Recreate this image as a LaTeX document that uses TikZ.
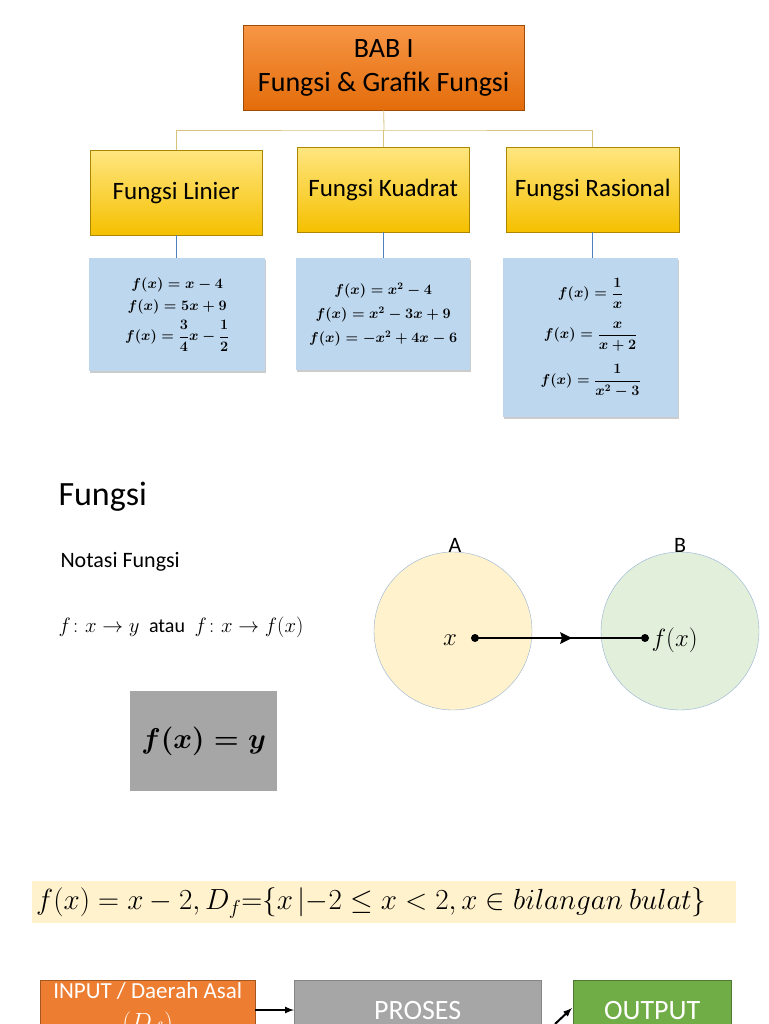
\documentclass[tikz,border=0pt]{standalone}
\usepackage{amsmath,amssymb}
\usepackage{fontspec}
\setmainfont{Carlito}
\usetikzlibrary{shadows}
\definecolor{orA}{HTML}{F79646}\definecolor{orB}{HTML}{E36C0A}
\definecolor{yeA}{HTML}{FFE680}\definecolor{yeB}{HTML}{F5C000}
\definecolor{lblue}{HTML}{BDD7EE}\definecolor{linec}{HTML}{D9C27A}
\definecolor{bline}{HTML}{4F81BD}\definecolor{cream}{HTML}{FFF2CC}
\definecolor{lgreen}{HTML}{E2EFDA}\definecolor{gry}{HTML}{A6A6A6}
\definecolor{orflat}{HTML}{ED7D31}\definecolor{grn}{HTML}{70AD47}
\begin{document}
\begin{tikzpicture}[x=1pt,y=-1pt,
 topbox/.style={draw=orB!70!black,top color=orA,bottom color=orB,minimum width=281pt,minimum height=85pt,font=\fontsize{28}{34}\selectfont,align=center,anchor=north west},
 catbox/.style={draw=yeB!70!black,top color=yeA,bottom color=yeB,minimum width=172pt,minimum height=85pt,font=\fontsize{25}{30}\selectfont,anchor=north west},
 mathbox/.style={fill=lblue,drop shadow={shadow xshift=1pt,shadow yshift=-2pt,opacity=0.4},anchor=north west,align=center,font=\fontsize{14}{17}\selectfont},
 conn/.style={draw=linec,line width=0.8pt},
 bconn/.style={draw=bline,line width=0.6pt},
 flow/.style={anchor=north west,text=white,font=\fontsize{28}{32}\selectfont,align=center}]
\useasboundingbox (0,0) rectangle (768,1024);
\fill[white] (0,0) rectangle (768,1024);
\node[topbox] (bab) at (243,25) {BAB I\\Fungsi \& Grafik Fungsi};
\node[catbox] (lin) at (90,150) {Fungsi Linier};
\node[catbox] (kua) at (297,147) {Fungsi Kuadrat};
\node[catbox,minimum width=173pt] (ras) at (506,147) {Fungsi Rasional};
\coordinate (hub) at (384,130);
\draw[conn] (bab.south) -- (hub);
\draw[conn] (lin.north) |- (hub) -| (ras.north);
\draw[conn] (kua.north) -- (kua.north |- hub);
\node[mathbox,minimum width=176pt,minimum height=113pt] (m1) at (89,258) {$\boldsymbol{f(x)=x-4}$\\[5pt]$\boldsymbol{f(x)=5x+9}$\\[5pt]$\boldsymbol{f(x)=\dfrac{3}{4}x-\dfrac{1}{2}}$};
\node[mathbox,minimum width=174pt,minimum height=112pt] (m2) at (296,258) {$\boldsymbol{f(x)=x^2-4}$\\[7pt]$\boldsymbol{f(x)=x^2-3x+9}$\\[7pt]$\boldsymbol{f(x)=-x^2+4x-6}$};
\node[mathbox,minimum width=175pt,minimum height=159pt] (m3) at (503,258) {$\boldsymbol{f(x)=\dfrac{1}{x}}$\\[12pt]$\boldsymbol{f(x)=\dfrac{x}{x+2}}$\\[12pt]$\boldsymbol{f(x)=\dfrac{1}{x^2-3}}$};
\draw[bconn] (lin.south) -- (lin.south |- m1.north);
\draw[bconn] (kua.south) -- (kua.south |- m2.north);
\draw[bconn] (ras.south) -- (ras.south |- m3.north);
\node[anchor=west,font=\fontsize{34}{38}\selectfont] (fungsi) at (55,497) {Fungsi};
\node[anchor=west,font=\fontsize{22}{26}\selectfont] (notasi) at (57,562) {Notasi Fungsi};
\node[anchor=west,font=\fontsize{21}{25}\selectfont] (fx) at (55,627) {$f\colon x\to y$ \ {\fontsize{20}{24}\selectfont atau} \ $f\colon x\to f(x)$};
\node[fill=gry,minimum width=147pt,minimum height=100pt,anchor=north west,font=\fontsize{24}{28}\selectfont] (fy) at (130,691) {\scalebox{1.15}{$\boldsymbol{f(x)=y}$}};
\draw[fill=cream,draw=bline!60] (453,631) circle (79);
\draw[fill=lgreen,draw=bline!60] (680,631) circle (79);
\node[font=\fontsize{22}{26}\selectfont] (A) at (455,545) {A};
\node[font=\fontsize{22}{26}\selectfont] (B) at (680,545) {B};
\node[font=\fontsize{24}{28}\selectfont] (xl) at (450,640) {$x$};
\node[anchor=west,font=\fontsize{24}{28}\selectfont] (fxl) at (648,640) {$f(x)$};
\coordinate (p1) at (475,638); \coordinate (p2) at (645,638);
\fill (p1) circle (4); \fill (p2) circle (4);
\draw[line width=2pt] (p1) -- (p2);
\fill (572,638) -- (560,632) -- (562,638) -- (560,644) -- cycle;
\fill[cream] (32,881) rectangle (736,923);
\node[anchor=west,font=\fontsize{24}{28}\selectfont,inner sep=0pt] (df) at (36,903) {\scalebox{1.17}{$f(x)=x-2,D_f{=}\{x\,|{-2}\le x<2, x\in bilangan\ bulat\}$}};
\node[flow,fill=orflat,draw=orflat!70!black,minimum width=215pt,minimum height=60pt,inner sep=2pt] (in) at (40,980) {\fontsize{23}{27}\selectfont INPUT / Daerah Asal\\ $(D_f)$};
\node[flow,fill=gry,draw=gry!80!black,minimum width=247pt,minimum height=60pt] (pr) at (294,980) {PROSES};
\node[flow,fill=grn,draw=grn!70!black,minimum width=158pt,minimum height=60pt] (out) at (573,980) {OUTPUT};
\draw[line width=2pt,-latex] (in.east |- 0,1010) -- (pr.west |- 0,1010);
\coordinate (c1) at (555,1024);
\draw[line width=2pt,-latex] (c1) -- (572,1008);
\end{tikzpicture}
\end{document}
